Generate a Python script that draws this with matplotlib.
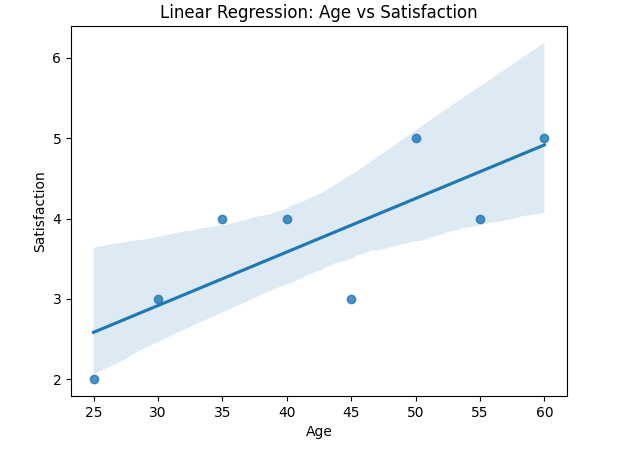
import numpy as np
import pandas as pd
import matplotlib
matplotlib.use("Agg")
import matplotlib.pyplot as plt
import seaborn as sns

age = [25, 30, 35, 40, 45, 50, 55, 60]
satisfaction = [2, 3, 4, 4, 3, 5, 4, 5]

df = pd.DataFrame({"Age": age, "Satisfaction": satisfaction})

fig = plt.figure(figsize=(6.24, 4.5), dpi=100)
ax = fig.add_axes([71 / 624, 54 / 450, 496 / 624, 370 / 450])
# fixed bootstrap seed so the confidence band looks like the original
sns.regplot(data=df, x="Age", y="Satisfaction", ax=ax, seed=463)
ax.set_title("Linear Regression: Age vs Satisfaction")

fig.savefig("out.png", dpi=100)
